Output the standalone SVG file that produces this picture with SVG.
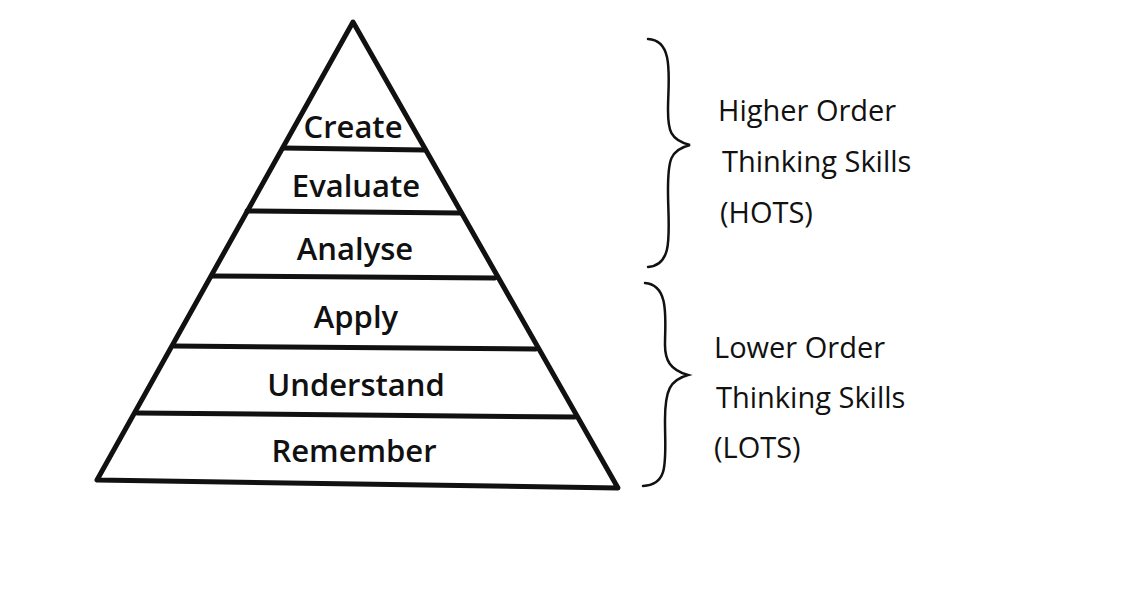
<svg xmlns="http://www.w3.org/2000/svg" width="1134" height="600" viewBox="0 0 1134 600">
<style>
.ln{fill:none;stroke:#111;stroke-width:5;stroke-linecap:round;stroke-linejoin:round}
.br{fill:none;stroke:#111;stroke-width:2.5;stroke-linecap:round}
.lb{font-family:"Open Sans","Liberation Sans",sans-serif;font-size:31px;font-weight:600;fill:#111;text-anchor:middle}
.sd{font-family:"Open Sans","Liberation Sans",sans-serif;font-size:29px;font-weight:500;fill:#111}
</style>
<rect width="1134" height="600" fill="#fff"/>
<g id="connectors">
<path class="ln" d="M353,22 L97,480 L618,488 Z"/>
<path class="ln" d="M283,148 L425,150"/>
<path class="ln" d="M247,211 L460,213"/>
<path class="ln" d="M212,276 L495,278"/>
<path class="ln" d="M174,346 L536,349"/>
<path class="ln" d="M137,413 L575,417"/>
</g>
<g id="create"><text class="lb" x="353" y="138">Create</text></g>
<g id="evaluate"><text class="lb" x="356" y="197">Evaluate</text></g>
<g id="analyse"><text class="lb" x="355" y="260">Analyse</text></g>
<g id="apply"><text class="lb" x="356" y="328">Apply</text></g>
<g id="understand"><text class="lb" x="356" y="396">Understand</text></g>
<g id="remember"><text class="lb" x="354" y="462">Remember</text></g>
<g id="hots">
<path class="br" d="M648,39 C675,40 668,80 668,110 C668,130 670,140 690,145 C670,150 668,160 668,190 C668,230 675,265 648,267"/>
<text class="sd" x="718" y="121">Higher Order</text>
<text class="sd" x="722" y="172">Thinking Skills</text>
<text class="sd" x="720" y="223">(HOTS)</text>
</g>
<g id="lots">
<path class="br" d="M645,283 C670,285 665,320 665,345 C665,360 670,370 688,375 C670,380 665,390 665,420 C665,460 670,485 643,486"/>
<text class="sd" x="714" y="358">Lower Order</text>
<text class="sd" x="716" y="408">Thinking Skills</text>
<text class="sd" x="714" y="458">(LOTS)</text>
</g>
</svg>
